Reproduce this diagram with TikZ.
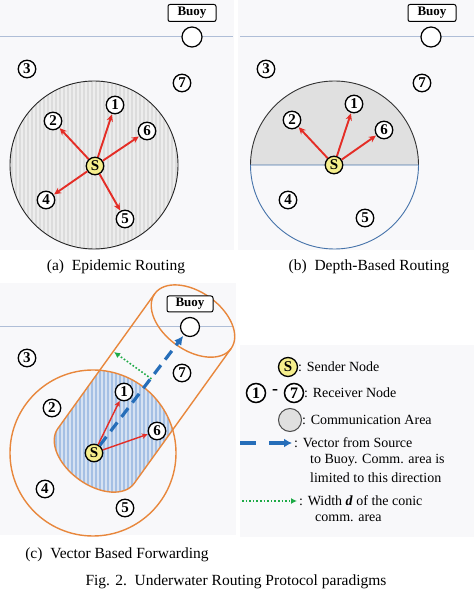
\documentclass[tikz,border=0pt]{standalone}
\usepackage{fontspec}
\setmainfont{Liberation Serif}
\usetikzlibrary{arrows.meta}
\definecolor{redA}{RGB}{228,45,38}
\definecolor{orangeC}{RGB}{232,135,60}
\definecolor{blueA}{RGB}{38,110,185}
\definecolor{greenA}{RGB}{30,170,70}
\definecolor{waterC}{RGB}{175,190,215}
\definecolor{yellowS}{RGB}{245,238,140}
\definecolor{grayF}{RGB}{220,220,220}
\definecolor{grayG}{RGB}{224,224,224}
\definecolor{blueF}{RGB}{165,192,228}
\definecolor{bluedia}{RGB}{70,115,170}
\definecolor{panelbg}{RGB}{248,248,250}
\begin{document}
\begin{tikzpicture}[x=1pt,y=1pt,
  rnode/.style={circle, draw=black, line width=1.3pt, fill=white, minimum size=17.5pt, inner sep=0pt, font=\bfseries\fontsize{15}{15}\selectfont},
  snode/.style={rnode, fill=yellowS},
  buoybox/.style={draw, rounded corners=2pt, line width=1pt, fill=white, minimum width=48pt, minimum height=17pt, inner sep=0pt, font=\bfseries\fontsize{13}{13}\selectfont},
  buoyc/.style={circle, draw, line width=1.2pt, fill=white, minimum size=20pt, inner sep=0pt},
  water/.style={draw=waterC, line width=0.8pt},
  redarr/.style={-{Stealth[length=7pt,width=6.5pt]}, draw=redA, line width=1.9pt, shorten >=0.5pt},
  redarrc/.style={-{Stealth[length=6pt,width=5.5pt]}, draw=redA, line width=1.4pt, shorten >=0.5pt},
  capt/.style={font=\fontsize{15.5}{15.5}\selectfont, inner sep=0pt},
  legtext/.style={anchor=west, font=\fontsize{14}{14}\selectfont, inner sep=0pt},
  orangeline/.style={draw=orangeC, line width=1.4pt}
]
\useasboundingbox (0,0) rectangle (474,590);
\fill[white] (0,0) rectangle (474,590);
% panel backgrounds
\fill[panelbg] (0,340) rectangle (234,590);
\fill[panelbg] (238,340) rectangle (474,590);
\fill[panelbg] (0,55) rectangle (236,307);
\fill[panelbg] (240,53) rectangle (474,245);

% ================= Panel (a) =================
\draw[water] (0,554) -- (233,554);
\begin{scope}
  \clip (94,425) circle (84);
  \fill[grayF] (8,339) rectangle (180,511);
  \foreach \i in {10,14,...,178} \draw[white, opacity=0.5, line width=1.3pt] (\i,339) -- (\i,511);
\end{scope}
\draw[line width=0.9pt, black!85] (94,425) circle (84);
\node[buoybox] (aBoy) at (192,577) {Buoy};
\node[buoyc] (aB) at (192,553) {};
\node[rnode] (a3) at (27,521) {3};
\node[rnode] (a7) at (182,507) {7};
\node[snode] (aS) at (95,424) {S};
\node[rnode] (a1) at (115,485) {1};
\node[rnode] (a2) at (53,469) {2};
\node[rnode] (a6) at (147,459) {6};
\node[rnode] (a4) at (46,390) {4};
\node[rnode] (a5) at (125,371) {5};
\foreach \t in {1,2,4,5,6} \draw[redarr] (aS) -- (a\t);
\node[capt] (capa) at (116,323) {(a)\ \ Epidemic Routing};

% ================= Panel (b) =================
\draw[water] (240,554) -- (474,554);
\fill[grayG] (250.5,425) arc[start angle=180, end angle=0, radius=84] -- cycle;
\draw[line width=0.9pt, black!80] (250.5,425) arc[start angle=180, end angle=0, radius=84];
\draw[line width=0.9pt, bluedia] (250.5,425) arc[start angle=180, end angle=360, radius=84] -- cycle;
\node[buoybox] (bBoy) at (432,577) {Buoy};
\node[buoyc] (bB) at (431,553) {};
\node[rnode] (b3) at (266,521) {3};
\node[rnode] (b7) at (422,507) {7};
\node[snode] (bS) at (334,425) {S};
\node[rnode] (b1) at (354,486) {1};
\node[rnode] (b2) at (292,470) {2};
\node[rnode] (b6) at (384,460) {6};
\node[rnode] (b4) at (288,390) {4};
\node[rnode] (b5) at (365,372) {5};
\foreach \t in {1,2,6} \draw[redarr] (bS) -- (b\t);
\node[capt] (capb) at (369,323) {(b)\ \ Depth-Based Routing};

% ================= Panel (c) =================
\draw[water] (0,264) -- (233,264);
\begin{scope}
  \clip (93,137) circle (83);
  \begin{scope}[shift={(96,134)}, rotate=-35.7]
    \clip (47,0) -- (47,170) -- (-47,170) -- (-47,0)
      arc[start angle=180, end angle=360, x radius=47, y radius=29] -- cycle;
    \begin{scope}[rotate=35.7]
      \fill[blueF] (-100,-100) rectangle (100,200);
      \foreach \i in {-98,-94,...,100} \draw[white, opacity=0.55, line width=1.3pt] (\i,-100) -- (\i,200);
    \end{scope}
  \end{scope}
\end{scope}
\draw[orangeline] (93,137) circle (83);
\begin{scope}[shift={(96,134)}, rotate=-35.7]
  \draw[orangeline] (-47,166.2) -- (-47,0)
      arc[start angle=180, end angle=360, x radius=47, y radius=29] -- (47,166.2);
  \draw[orangeline] (0,166.2) ellipse [x radius=47, y radius=29];
  \coordinate (gS) at (0,95);
  \coordinate (gE) at (-46,95);
\end{scope}
\node[buoybox, minimum width=46pt, minimum height=16pt] (cBoy) at (190,286) {Buoy};
\node[buoyc, minimum size=19pt] (cB) at (190,263) {};
\node[rnode] (c3) at (27,232) {3};
\node[rnode] (c7) at (182,217) {7};
\node[rnode] (c2) at (52,182) {2};
\node[rnode] (c1) at (124,198) {1};
\node[rnode] (c6) at (157,159) {6};
\node[rnode] (c4) at (45,101) {4};
\node[rnode] (c5) at (125,82) {5};
\node[snode] (cS) at (94,137) {S};
\draw[draw=blueA, line width=3.2pt, dash pattern=on 11pt off 7pt, -{Latex[length=9pt,width=9pt]}, shorten >=1pt] (cS) -- (cB);
\draw[draw=greenA, line width=1.6pt, dotted, -{Latex[length=6pt,width=6pt]}] (gS) -- (gE);
\foreach \t in {1,6} \draw[redarrc] (cS) -- (c\t);
\node[capt] (capc) at (117,35) {(c)\ \ Vector Based Forwarding};

% ================= Legend =================
\node[snode, minimum size=19pt] (lS) at (288,223) {S};
\node[legtext] (lSt) at (298,223) {: Sender Node};
\node[rnode, minimum size=19pt, line width=1.5pt, font=\bfseries\fontsize{16}{16}\selectfont] (l1) at (256,197) {1};
\node[rnode, minimum size=19pt, line width=1.5pt, font=\bfseries\fontsize{16}{16}\selectfont] (l7) at (294,197) {7};
\node[font=\bfseries\fontsize{18}{18}\selectfont, inner sep=0pt] (ldash) at (275,198) {-};
\node[legtext] (lRt) at (304,197) {: Receiver Node};
\node[circle, draw=black!70, line width=1pt, fill=black!12, minimum size=23pt, inner sep=0pt] (lC) at (290,170) {};
\node[legtext] (lCt) at (302,170) {: Communication Area};
\coordinate (lV0) at (240,147);
\coordinate (lV1) at (292,147);
\draw[draw=blueA, line width=3.2pt, dash pattern=on 16pt off 13pt, -{Latex[length=8pt,width=9pt]}] (lV0) -- (lV1);
\node[legtext] (lVt1) at (294,147) {: Vector from Source};
\node[legtext] (lVt2) at (310,129.5) {to Buoy. Comm. area is};
\node[legtext] (lVt3) at (310,112) {limited to this direction};
\coordinate (lG0) at (242,89);
\coordinate (lG1) at (297,89);
\draw[draw=greenA, line width=1.6pt, dotted, -{Latex[length=6pt,width=6pt]}] (lG0) -- (lG1);
\node[legtext] (lGt1) at (299,89) {: Width \textbf{\textit{d}} of the conic};
\node[legtext] (lGt2) at (315,71.5) {comm. area};

% ================= Figure caption =================
\node[capt, anchor=north] (figcap) at (236,15) {Fig. 2.\ \ Underwater Routing Protocol paradigms};
\end{tikzpicture}
\end{document}
